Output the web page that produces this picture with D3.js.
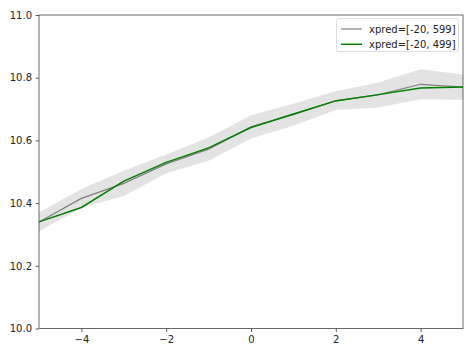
<!DOCTYPE html>
<html>
<head>
<meta charset="utf-8">
<script src="https://cdn.jsdelivr.net/npm/d3@7"></script>
<style>
  html, body { margin: 0; padding: 0; background: #fff; }
  svg { display: block; }
  text { font-family: "DejaVu Sans", sans-serif; }
</style>
</head>
<body>
<svg id="chart" width="474" height="355"></svg>
<script>
const xs = [-5, -4, -3, -2, -1, 0, 1, 2, 3, 4, 5];
const meanWide = [10.340, 10.415, 10.463, 10.525, 10.572, 10.643, 10.682, 10.727, 10.745, 10.779, 10.770];
const bandHalf = [0.030, 0.030, 0.040, 0.030, 0.037, 0.037, 0.035, 0.030, 0.040, 0.048, 0.040];
const meanNarrow = [10.340, 10.386, 10.470, 10.530, 10.576, 10.641, 10.684, 10.726, 10.746, 10.767, 10.770];
const xTicks = [-4, -2, 0, 2, 4];
const yTicks = [10.0, 10.2, 10.4, 10.6, 10.8, 11.0];
const seriesNames = ["xpred=[-20, 599]", "xpred=[-20, 499]"];

const svg = d3.select("#chart");
const L = 39, R = 463, T = 15, B = 328.5;
const x = d3.scaleLinear().domain([-5, 5]).range([L, R]);
const y = d3.scaleLinear().domain([10.0, 11.0]).range([B, T]);

const data = xs.map((v, i) => ({x: v, m: meanWide[i], h: bandHalf[i], g: meanNarrow[i]}));

// band
svg.append("path")
  .datum(data)
  .attr("fill", "#e3e3e3")
  .attr("d", d3.area().x(d => x(d.x)).y0(d => y(d.m - d.h)).y1(d => y(d.m + d.h)));

// gray line
svg.append("path")
  .datum(data)
  .attr("fill", "none")
  .attr("stroke", "#808080")
  .attr("stroke-width", 1.2)
  .attr("d", d3.line().x(d => x(d.x)).y(d => y(d.m)));

// green line
svg.append("path")
  .datum(data)
  .attr("fill", "none")
  .attr("stroke", "#008000")
  .attr("stroke-width", 1.5)
  .attr("d", d3.line().x(d => x(d.x)).y(d => y(d.g)));

// axes
const xAxis = d3.axisBottom(x).tickValues(xTicks).tickSize(3.5).tickPadding(3.5)
  .tickFormat(d => d < 0 ? "\u2212" + Math.abs(d) : String(d));
const yAxis = d3.axisLeft(y).tickValues(yTicks).tickSize(3.5).tickPadding(3.5)
  .tickFormat(d3.format(".1f"));

const gx = svg.append("g").attr("transform", `translate(0,${B})`).call(xAxis);
const gy = svg.append("g").attr("transform", `translate(${L},0)`).call(yAxis);
[gx, gy].forEach(g => {
  g.select(".domain").remove();
  g.selectAll(".tick line").attr("stroke", "#333").attr("stroke-width", 0.8);
  g.selectAll(".tick text").attr("fill", "#222").style("font-size", "10px").style("font-family", "DejaVu Sans, sans-serif");
});

// frame
svg.append("rect")
  .attr("x", L).attr("y", T).attr("width", R - L).attr("height", B - T)
  .attr("fill", "none").attr("stroke", "#444").attr("stroke-width", 0.8);

// legend
const lg = svg.append("g");
lg.append("rect")
  .attr("x", 336.5).attr("y", 18.5).attr("width", 122).attr("height", 33)
  .attr("rx", 2).attr("fill", "#fff").attr("fill-opacity", 0.8)
  .attr("stroke", "#d5d5d5").attr("stroke-width", 0.8);
const colors = ["#808080", "#008000"];
const widths = [1.2, 1.5];
seriesNames.forEach((name, i) => {
  const cy = 29 + i * 15.3;
  lg.append("line").attr("x1", 341).attr("x2", 362).attr("y1", cy).attr("y2", cy)
    .attr("stroke", colors[i]).attr("stroke-width", widths[i]);
  lg.append("text").attr("x", 369).attr("y", cy).attr("dy", "0.35em")
    .attr("fill", "#222").style("font-size", "10px").text(name);
});
</script>
</body>
</html>
